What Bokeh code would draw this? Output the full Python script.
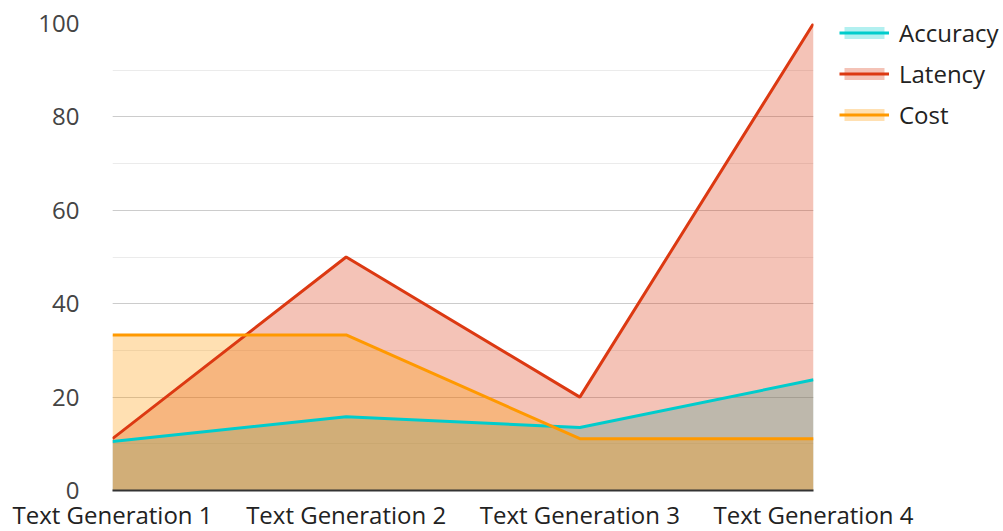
from bokeh.plotting import figure
from bokeh.models import Legend, LegendItem, SingleIntervalTicker, FixedTicker, Range1d
from bokeh.embed import file_html
from bokeh.resources import INLINE

categories = ["Text Generation 1", "Text Generation 2", "Text Generation 3", "Text Generation 4"]
accuracy = [10.5, 15.8, 13.5, 23.7]
latency = [11.1, 50.0, 20.0, 100.0]
cost = [33.3, 33.3, 11.1, 11.1]
series_names = ["Accuracy", "Latency", "Cost"]
series_colors = ["#00CCCC", "#DC3912", "#FF9900"]

xs = list(range(len(categories)))
FONT = "Open Sans"
FS = "24px"

p = figure(frame_width=701, frame_height=467, output_backend="svg", toolbar_location=None,
           x_range=Range1d(0, len(categories) - 1), y_range=Range1d(0, 100),
           min_border_left=112, min_border_right=190, min_border_top=23, min_border_bottom=41)
p.outline_line_color = None
p.background_fill_color = "white"
p.border_fill_color = "white"

all_vals = [accuracy, latency, cost]
areas = []
for vals, col in zip(all_vals, series_colors):
    areas.append(p.varea(x=xs, y1=[0] * len(xs), y2=vals, fill_color=col, fill_alpha=0.3))
items = []
for name, vals, col, a in zip(series_names, all_vals, series_colors, areas):
    l = p.line(x=xs, y=vals, line_color=col, line_width=3)
    items.append(LegendItem(label=name, renderers=[a, l]))

# axes
p.xaxis.ticker = FixedTicker(ticks=xs)
p.xaxis.major_label_overrides = {i: c for i, c in enumerate(categories)}
p.xaxis.major_tick_line_color = None
p.xaxis.minor_tick_line_color = None
p.xaxis.major_tick_out = 0
p.xaxis.axis_line_color = "#333333"
p.xaxis.axis_line_width = 2
p.xaxis.major_label_standoff = 7
p.xaxis.major_label_text_font = FONT
p.xaxis.major_label_text_font_size = FS
p.xaxis.major_label_text_color = "#222222"

p.yaxis.ticker = SingleIntervalTicker(interval=20, num_minor_ticks=2)
p.yaxis.major_tick_line_color = None
p.yaxis.minor_tick_line_color = None
p.yaxis.major_tick_out = 0
p.yaxis.axis_line_color = None
p.yaxis.major_label_standoff = 29
p.yaxis.major_label_text_font = FONT
p.yaxis.major_label_text_font_size = FS
p.yaxis.major_label_text_color = "#444444"

p.xgrid.grid_line_color = None
p.ygrid.grid_line_color = "#CCCCCC"
p.ygrid.minor_grid_line_color = "#EBEBEB"

legend = Legend(items=items, location=(26, 359))
legend.border_line_color = None
legend.background_fill_alpha = 0
legend.glyph_width = 50
legend.glyph_height = 15
legend.label_standoff = 10
legend.spacing = 8
legend.margin = 0
legend.padding = 0
legend.label_text_font = FONT
legend.label_text_font_size = FS
legend.label_text_color = "#222222"
p.add_layout(legend, "right")

open("out.html", "w").write(file_html(p, INLINE))
